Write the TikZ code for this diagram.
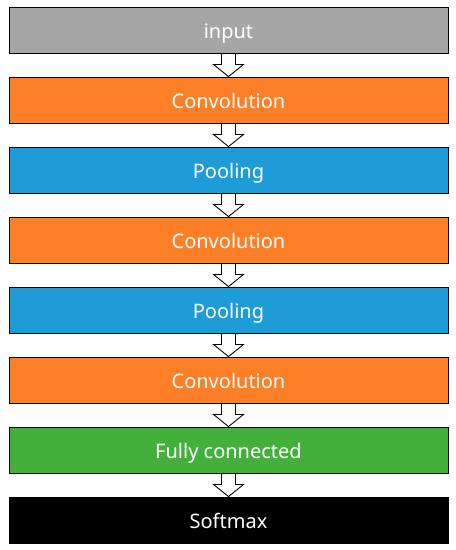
\documentclass[tikz,border=0pt]{standalone}
\usepackage{fontspec}
\setmainfont{Noto Sans}
\usetikzlibrary{calc}
\definecolor{cgray}{HTML}{A6A6A6}
\definecolor{corange}{HTML}{FD7F27}
\definecolor{cblue}{HTML}{1E9CD8}
\definecolor{cgreen}{HTML}{44B03C}
\tikzset{
  layer/.style={draw=black, line width=0.9pt, minimum width=439pt, minimum height=46pt, inner sep=0pt, text=white, text height=20pt, text depth=4pt, font=\fontsize{20}{24}\selectfont},
  blockarrow/.style={draw=black, fill=white, line width=0.9pt, line join=miter}
}
\newcommand{\blockarr}[2]{%
  \draw[blockarrow] ($(#1.south)+(-7,0)$) -- ($(#1.south)+(-7,11)$) -- ($(#1.south)+(-15,11)$) -- (#2.north) -- ($(#1.south)+(15,11)$) -- ($(#1.south)+(7,11)$) -- ($(#1.south)+(7,0)$) -- cycle;}
\begin{document}
\begin{tikzpicture}[x=1pt,y=-1pt]
\useasboundingbox (0,0) rectangle (456,550);
\node[layer, fill=cgray]   (in)  at (228.5,30)  {input};
\node[layer, fill=corange] (c1)  at (228.5,100) {Convolution};
\node[layer, fill=cblue]   (p1)  at (228.5,170) {Pooling};
\node[layer, fill=corange] (c2)  at (228.5,240) {Convolution};
\node[layer, fill=cblue]   (p2)  at (228.5,310) {Pooling};
\node[layer, fill=corange] (c3)  at (228.5,380) {Convolution};
\node[layer, fill=cgreen]  (fc)  at (228.5,450) {Fully connected};
\node[layer, fill=black]   (sm)  at (228.5,520) {Softmax};
\blockarr{in}{c1}
\blockarr{c1}{p1}
\blockarr{p1}{c2}
\blockarr{c2}{p2}
\blockarr{p2}{c3}
\blockarr{c3}{fc}
\blockarr{fc}{sm}
\end{tikzpicture}
\end{document}
